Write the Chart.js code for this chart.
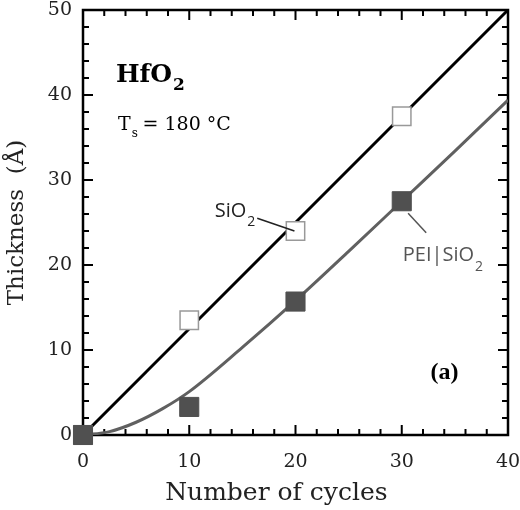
<!DOCTYPE html>
<html>
<head>
<meta charset="utf-8">
<script src="https://cdn.jsdelivr.net/npm/chart.js@4.4.1/dist/chart.umd.min.js"></script>
<style>
    html, body { margin: 0; padding: 0; background: #fff; }
    #wrap { width: 520px; height: 510px; }
</style>
</head>
<body>
<div id="wrap"><canvas id="thickness"></canvas></div>
<script>
const cycles = [0, 10, 20, 30];
const sio2Thickness = [0, 13.5, 24, 37.5];
const peiThickness = [0, 3.3, 15.7, 27.5];

// fit curves
const sio2FitX = [0, 40];
const sio2FitY = [0, 50];
const peiFitX = [0, 2.5, 5, 7.5, 10, 15, 20, 25, 30, 35, 40];
const peiFitY = [0, 0.4, 1.5, 3.1, 5.1, 10.3, 15.8, 21.6, 27.5, 33.4, 39.4];

const xRange = [0, 40];
const yRange = [0, 50];
const majorStep = 10;
const minorStep = 2;

const serif = "'DejaVu Serif', serif";
const sans = "'Open Sans', sans-serif";

const toPoints = (xs, ys) => xs.map((x, i) => ({ x: x, y: ys[i] }));

// inside ticks on all four sides + frame
const frameTicks = {
    id: "frameTicks",
    beforeDatasetsDraw(chart) {
        const { ctx, chartArea: a, scales: { x, y } } = chart;
        ctx.save();
        ctx.strokeStyle = "#000";
        ctx.lineWidth = 2;
        ctx.beginPath();
        for (let v = xRange[0]; v <= xRange[1]; v += minorStep) {
            const px = x.getPixelForValue(v);
            const len = v % majorStep === 0 ? 10 : 6;
            ctx.moveTo(px, a.bottom);
            ctx.lineTo(px, a.bottom - len);
            ctx.moveTo(px, a.top);
            ctx.lineTo(px, a.top + len);
        }
        for (let v = yRange[0]; v <= yRange[1]; v += minorStep) {
            const py = y.getPixelForValue(v);
            const len = v % majorStep === 0 ? 10 : 6;
            ctx.moveTo(a.left, py);
            ctx.lineTo(a.left + len, py);
            ctx.moveTo(a.right, py);
            ctx.lineTo(a.right - len, py);
        }
        ctx.stroke();
        ctx.lineWidth = 2.5;
        ctx.strokeRect(a.left, a.top, a.right - a.left, a.bottom - a.top);
        ctx.restore();
    },
};

// text with a subscript
function subText(ctx, x, y, main, sub, font, subFont, drop, color) {
    ctx.fillStyle = color;
    ctx.font = font;
    ctx.fillText(main, x, y);
    const w = ctx.measureText(main).width;
    ctx.font = subFont;
    ctx.fillText(sub, x + w + 1, y + drop);
}

const labels = {
    id: "labels",
    afterDatasetsDraw(chart) {
        const { ctx, scales: { x, y } } = chart;
        const X = (v) => x.getPixelForValue(v);
        const Y = (v) => y.getPixelForValue(v);
        ctx.save();
        ctx.textAlign = "left";
        ctx.textBaseline = "alphabetic";

        subText(ctx, X(3.1), Y(41.5), "HfO", "2",
            "bold 25px " + serif, "bold 17px " + serif, 8, "#000");
        subText(ctx, X(3.3), Y(35.9), "T", "s",
            "19px " + serif, "12px " + serif, 7, "#000");
        ctx.font = "19px " + serif;
        ctx.fillText("= 180 °C", X(5.6), Y(35.9));

        subText(ctx, X(12.4), Y(25.6), "SiO", "2",
            "20px " + sans, "14px " + sans, 9, "#222");
        subText(ctx, X(30.1), Y(20.5), "PEI|SiO", "2",
            "20px " + sans, "14px " + sans, 10, "#555");

        ctx.fillStyle = "#000";
        ctx.font = "bold 24px 'Liberation Serif', serif";
        ctx.fillText("(a)", X(32.7), Y(6.6));

        // leader lines
        ctx.lineWidth = 1.5;
        ctx.strokeStyle = "#222";
        ctx.beginPath();
        ctx.moveTo(X(16.4), Y(25.5));
        ctx.lineTo(X(19.9), Y(24.0));
        ctx.stroke();
        ctx.strokeStyle = "#555";
        ctx.beginPath();
        ctx.moveTo(X(30.6), Y(26.1));
        ctx.lineTo(X(32.3), Y(23.8));
        ctx.stroke();

        // x axis title sits a little left of centre in the figure
        ctx.fillStyle = "#222";
        ctx.font = "25px " + serif;
        ctx.textAlign = "center";
        ctx.fillText("Number of cycles", X(18.2), x.bottom - 10);
        ctx.restore();
    },
};

new Chart(document.getElementById("thickness"), {
    type: "scatter",
    data: {
        datasets: [
            {
                label: "PEI|SiO2",
                data: toPoints(cycles, peiThickness),
                pointStyle: "rect",
                pointRadius: 13.5,
                backgroundColor: "#505050",
                borderColor: "#505050",
                borderWidth: 1,
                clip: false,
                order: 1,
            },
            {
                label: "SiO2",
                data: toPoints(cycles, sio2Thickness),
                pointStyle: "rect",
                pointRadius: 13,
                backgroundColor: "#fff",
                borderColor: "#999",
                borderWidth: 1.5,
                clip: false,
                order: 2,
            },
            {
                type: "line",
                label: "PEI|SiO2 fit",
                data: toPoints(peiFitX, peiFitY),
                borderColor: "#606060",
                borderWidth: 3,
                pointRadius: 0,
                cubicInterpolationMode: "monotone",
                fill: false,
                order: 3,
            },
            {
                type: "line",
                label: "SiO2 fit",
                data: toPoints(sio2FitX, sio2FitY),
                borderColor: "#000",
                borderWidth: 3,
                pointRadius: 0,
                fill: false,
                order: 4,
            },
        ],
    },
    options: {
        responsive: true,
        maintainAspectRatio: false,
        animation: false,
        layout: {
            autoPadding: false,
            padding: { top: 10, right: 12, left: 0, bottom: 0 },
        },
        plugins: {
            legend: { display: false },
            tooltip: { enabled: false },
        },
        scales: {
            x: {
                type: "linear",
                min: xRange[0],
                max: xRange[1],
                grid: { display: false, drawTicks: false },
                border: { display: false },
                ticks: {
                    stepSize: majorStep,
                    padding: 16,
                    color: "#222",
                    font: { family: serif, size: 19 },
                },
                afterFit(scale) {
                    scale.height = 75;
                    scale.paddingLeft = 0;
                    scale.paddingRight = 0;
                },
            },
            y: {
                type: "linear",
                min: yRange[0],
                max: yRange[1],
                grid: { display: false, drawTicks: false },
                border: { display: false },
                ticks: {
                    stepSize: majorStep,
                    padding: 11,
                    color: "#222",
                    font: { family: serif, size: 19 },
                },
                title: {
                    display: true,
                    text: "Thickness  (Å)",
                    color: "#222",
                    font: { family: serif, size: 23 },
                    padding: { top: 3, bottom: 0 },
                },
                afterFit(scale) {
                    scale.width = 83;
                    scale.paddingTop = 0;
                    scale.paddingBottom = 0;
                },
            },
        },
    },
    plugins: [frameTicks, labels],
});
</script>
</body>
</html>
